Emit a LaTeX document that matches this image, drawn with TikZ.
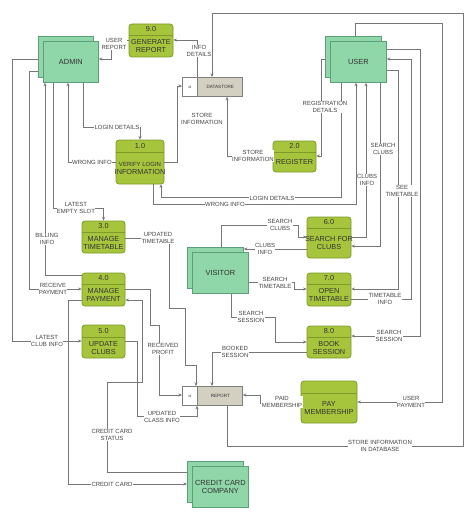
\documentclass[tikz,border=0pt]{standalone}
\usepackage{fontspec}
\setmainfont{Liberation Sans}
\usetikzlibrary{arrows.meta,calc}
\definecolor{procF}{HTML}{A6C43C}
\definecolor{procD}{HTML}{7E9B2A}
\definecolor{entF}{HTML}{8FD6A8}
\definecolor{entD}{HTML}{5E9E78}
\definecolor{dsF}{HTML}{D3D0C2}
\definecolor{dsD}{HTML}{7F7F7F}
\definecolor{lnC}{HTML}{777777}
\definecolor{txtC}{HTML}{333333}
\definecolor{lblC}{HTML}{444444}
\newcommand{\mkproc}[8]{%
  \node[proc, minimum width=#4, minimum height=#5] (#1) at (#2,#3) {};
  \draw[procD, line width=0.8pt] (#1.west |- 0,#6) -- (#1.east |- 0,#6);
  \node[ptxt] (#1n) at ($(#1.north)!0.5!(#1.north |- 0,#6)$) {#7};
  \node[ptxt] (#1t) at ($(#1.south)!0.5!(#1.south |- 0,#6)$) {#8};
}
\newcommand{\mkent}[6]{%
  \node[ent, minimum width=#4, minimum height=#5, anchor=north west] (#1B) at (#2,#3) {};
  \node[ent, minimum width=#4, minimum height=#5, anchor=north west] (#1) at ($(#2,#3)+(5,5)$) {#6};
}
\newcommand{\mkds}[4]{%
  \node[ds, minimum width=60, minimum height=19, anchor=north west] (#1) at (#2,#3) {};
  \node[idst, minimum width=15, minimum height=19, anchor=north west] (#1id) at (#2,#3) {id};
  \node[dstxt] (#1t) at ($(#1id.east)!0.5!(#1.east)$) {#4};
}
\begin{document}
\begin{tikzpicture}[x=1pt,y=-1pt,
  proc/.style={draw=procD, fill=procF, rounded corners=3pt, line width=0.8pt, inner sep=0pt},
  ptxt/.style={font=\fontsize{7.3}{8.3}\selectfont, text=txtC, align=center, inner sep=0pt},
  ent/.style={draw=entD, fill=entF, line width=0.8pt, inner sep=0pt, align=center, font=\fontsize{7.4}{8.6}\selectfont, text=txtC},
  ds/.style={draw=dsD, fill=dsF, line width=0.8pt, inner sep=0pt},
  idst/.style={draw=dsD, fill=white, line width=0.8pt, inner sep=0pt, font=\fontsize{3.5}{4}\selectfont, text=txtC},
  dstxt/.style={font=\fontsize{4.6}{5}\selectfont, text=txtC, inner sep=0pt},
  ln/.style={draw=lnC, line width=0.7pt},
  arr/.style={ln, -{Stealth[length=3.5pt,width=3pt]}},
  lbl/.style={font=\fontsize{6}{7}\selectfont, text=lblC, fill=white, inner sep=0.4pt, align=center}]
\useasboundingbox[fill=white] (0,0) rectangle (474,516);

% entities
\mkent{admin}{38}{36}{55}{41}{ADMIN}
\mkent{user}{325}{36}{56}{41}{USER}
\mkent{vis}{187}{247}{56}{41}{VISITOR}
\mkent{ccc}{187}{461}{56}{41}{CREDIT CARD\\COMPANY}

% processes
\mkproc{p9}{151}{40.5}{44}{33}{35}{9.0}{GENERATE\\REPORT}
\mkproc{p1}{140}{162}{48}{44}{152}{1.0}{\fontsize{6}{7.5}\selectfont VERIFY LOGIN\\INFORMATION}
\mkproc{p2}{294.5}{156.5}{43}{31}{152}{2.0}{REGISTER}
\mkproc{p3}{103.5}{237}{43}{32}{232}{3.0}{MANAGE\\TIMETABLE}
\mkproc{p4}{103.5}{289.5}{43}{33}{284}{4.0}{MANAGE\\PAYMENT}
\mkproc{p5}{103.5}{341.5}{43}{33}{337}{5.0}{UPDATE\\CLUBS}
\mkproc{p6}{329}{237.5}{44}{41}{228}{6.0}{SEARCH FOR\\CLUBS}
\mkproc{p7}{329}{289.5}{44}{33}{284}{7.0}{OPEN\\TIMETABLE}
\mkproc{p8}{329}{342}{44}{32}{337}{8.0}{BOOK\\SESSION}
\mkproc{pm}{329}{402}{56}{42}{393}{}{PAY\\MEMBERSHIP}

% data stores
\mkds{dstore}{182}{77}{DATASTORE}
\mkds{report}{182}{386}{REPORT}

% connectors
\draw[arr] (p9.west |- 0,40) -- (111,40) -- (111,59) -- (admin.east |- 0,59);
\draw[arr] (dstore.north -| 197,0) -- (197,40) -- (p9.east |- 0,40);
\draw[arr] (p1.east |- 0,162) -- (177,162) -- (177,86) -- (dstore.west |- 0,86);
\draw[arr] (p2.west |- 0,156) -- (227,156) -- (dstore.south -| 227,0);
\draw[arr] (report.south -| 227,0) -- (227,446) -- (463,446) -- (463,13) -- (212,13) -- (dstore.north -| 212,0);
\draw[arr] (admin.south -| 83,0) -- (83,127) -- (140,127) -- (p1.north);
\draw[arr] (p1.west |- 0,162) -- (68,162) -- (admin.south -| 68,0);
\draw[arr] (admin.south -| 53,0) -- (53,208) -- (103.5,208) -- (p3.north);
\draw[arr] (p4.west |- 0,275) -- (45,275) -- (admin.south -| 45,0);
\draw[arr] (adminB.west |- 0,71) -- (29,71) -- (29,289) -- (p4.west |- 0,289);
\draw[arr] (adminB.west |- 0,59) -- (12,59) -- (12,341) -- (p5.west |- 0,341);
\draw[arr] (p3.east |- 0,238) -- (169,238) -- (169,308) -- (185,308) -- (185,365) -- (196,365) -- (report.north -| 196,0);
\draw[arr] (p4.east |- 0,289) -- (150,289) -- (150,325) -- (159,325) -- (159,395) -- (report.west |- 0,395);
\draw[arr] (p5.east |- 0,341) -- (137,341) -- (137,416) -- (197,416) -- (report.south -| 197,0);
\draw[arr] (p4.west |- 0,300) -- (68,300) -- (68,484) -- (cccB.west |- 0,484);
\draw[arr] (cccB.west |- 0,472) -- (107,472) -- (107,382) -- (142,382) -- (142,300) -- (p4.east |- 0,300);
\draw[arr] (p8.west |- 0,352) -- (212,352) -- (report.north -| 212,0);
\draw[arr] (pm.west |- 0,403) -- (260,403) -- (260,395) -- (report.east |- 0,395);
\draw[arr] (userB.north -| 355,0) -- (355,23) -- (442,23) -- (442,402) -- (pm.east |- 0,402);
\draw[arr] (user.east |- 0,70) -- (398,70) -- (398,289) -- (p7.east |- 0,289);
\draw[arr] (p7.east |- 0,299) -- (411,299) -- (411,59) -- (user.east |- 0,59);
\draw[arr] (user.east |- 0,49) -- (420,49) -- (420,336) -- (p8.east |- 0,336);
\draw[arr] (userB.west |- 0,59) -- (321,59) -- (321,156) -- (p2.east |- 0,156);
\draw[arr] (user.south -| 341,0) -- (341,197) -- (161,197) -- (p1.south -| 161,0);
\draw[arr] (p1.south -| 153,0) -- (153,204) -- (356,204) -- (user.south -| 356,0);
\draw[arr] (p6.east |- 0,237) -- (366,237) -- (user.south -| 366,0);
\draw[arr] (user.south -| 380,0) -- (380,246) -- (p6.east |- 0,246);
\draw[arr] (visB.north -| 221,0) -- (221,225) -- (298,225) -- (298,237) -- (p6.west |- 0,237);
\draw[arr] (p6.west |- 0,249) -- (visB.east |- 0,249);
\draw[arr] (vis.east |- 0,282) -- (294,282) -- (294,289) -- (p7.west |- 0,289);
\draw[arr] (vis.south -| 231,0) -- (231,317) -- (275,317) -- (275,342) -- (p8.west |- 0,342);

% labels
\node[lbl] (l1) at (114,44) {USER\\REPORT};
\node[lbl] (l2) at (199,51) {INFO\\DETAILS};
\node[lbl] (l3) at (202,119) {STORE\\INFORMATION};
\node[lbl] (l4) at (253,156) {STORE\\INFORMATION};
\node[lbl] (l5) at (380,446) {STORE INFORMATION\\IN DATABASE};
\node[lbl] (l6) at (117,127) {LOGIN DETAILS};
\node[lbl] (l7) at (92,162) {WRONG INFO};
\node[lbl] (l8) at (76,208) {LATEST\\EMPTY SLOT};
\node[lbl] (l9) at (47,239) {BILLING\\INFO};
\node[lbl] (l10) at (53,289) {RECEIVE\\PAYMENT};
\node[lbl] (l11) at (47,341) {LATEST\\CLUB INFO};
\node[lbl] (l12) at (158,238) {UPDATED\\TIMETABLE};
\node[lbl] (l13) at (163,349) {RECEIVED\\PROFIT};
\node[lbl] (l14) at (162,417) {UPDATED\\CLASS INFO};
\node[lbl] (l15) at (112,484) {CREDIT CARD};
\node[lbl] (l16) at (112,435) {CREDIT CARD\\STATUS};
\node[lbl] (l17) at (235,352) {BOOKED\\SESSION};
\node[lbl] (l18) at (282,402) {PAID\\MEMBERSHIP};
\node[lbl] (l19) at (411,402) {USER\\PAYMENT};
\node[lbl] (l20) at (402,191) {SEE\\TIMETABLE};
\node[lbl] (l21) at (385,299) {TIMETABLE\\INFO};
\node[lbl] (l22) at (389,336) {SEARCH\\SESSION};
\node[lbl] (l23) at (325,107) {REGISTRATION\\DETAILS};
\node[lbl] (l24) at (272,198) {LOGIN DETAILS};
\node[lbl] (l25) at (225,204) {WRONG INFO};
\node[lbl] (l26) at (367,180) {CLUBS\\INFO};
\node[lbl] (l27) at (383,149) {SEARCH\\CLUBS};
\node[lbl] (l28) at (280,225) {SEARCH\\CLUBS};
\node[lbl] (l29) at (265,249) {CLUBS\\INFO};
\node[lbl] (l30) at (275,283) {SEARCH\\TIMETABLE};
\node[lbl] (l31) at (251,317) {SEARCH\\SESSION};
\end{tikzpicture}
\end{document}
